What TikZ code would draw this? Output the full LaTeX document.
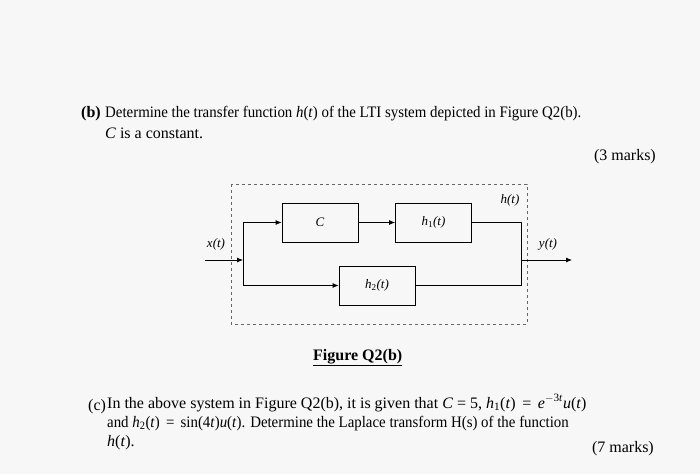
\documentclass[tikz,border=0pt]{standalone}
\usepackage{fontspec}
\setmainfont{Liberation Serif}
\usetikzlibrary{arrows.meta}
\begin{document}
\begin{tikzpicture}[x=1pt,y=-1pt,
  txt/.style={anchor=base west,inner sep=0pt,font=\fontsize{16}{18}\selectfont},
  blk/.style={draw,thick,minimum width=76pt,minimum height=39pt,inner sep=0pt,font=\fontsize{13}{15}\selectfont\itshape},
  lbl/.style={inner sep=0pt,font=\fontsize{13}{15}\selectfont\itshape},
  wire/.style={thick},
  arr/.style={thick,-{Latex[length=6pt,width=5pt]}}]
\fill[gray!6] (0,0) rectangle (700,474);
\useasboundingbox (0,0) rectangle (700,474);
\node[txt,anchor=base east] (b) at (101,117) {\textbf{(b)}};
\node[txt] (l1) at (105,117) {\scalebox{0.93}[1]{Determine the transfer function \textit{h}(\textit{t}) of the LTI system depicted in Figure Q2(b).}};
\node[txt] (l2) at (105,138) {\textit{C} is a constant.};
\node[txt,anchor=base east] (m3) at (656,160) {(3 marks)};
\draw[thick,dashed,gray!80!black] (231,184) rectangle (527,324);
\node[blk] (C) at (320,222.5) {C};
\node[blk] (h1) at (433.5,222.5) {h\textsubscript{\upshape 1}(t)};
\node[blk] (h2) at (377,285.5) {h\textsubscript{\upshape 2}(t)};
\coordinate (in) at (205,260);
\coordinate (sp) at (243,260);
\coordinate (mg) at (521,260);
\coordinate (out) at (572,260);
\draw[arr] (in) -- (sp);
\draw[arr] (sp) |- (C.west);
\draw[arr] (sp) |- (h2.west);
\draw[arr] (C.east) -- (h1.west);
\draw[wire] (h1.east) -| (mg) |- (h2.east);
\draw[arr] (mg) -- (out);
\node[lbl] (xt) at (216,244) {x(t)};
\node[lbl] (yt) at (548,244) {y(t)};
\node[lbl] (ht) at (510,200) {h(t)};
\node[txt,font=\fontsize{16}{18}\selectfont\bfseries] (fig) at (313,360) {\underline{Figure Q2(b)}};
\node[txt] (c) at (88,410) {(c)};
\node[txt] (c1) at (107,408) {In the above system in Figure Q2(b), it is given that \textit{C} = 5, \textit{h}\textsubscript{1}(\textit{t}) \,=\, \textit{e}\textsuperscript{$-$3\textit{t}}\textit{u}(\textit{t})};
\node[txt] (c2) at (107,427) {\scalebox{0.93}[1]{and \textit{h}\textsubscript{2}(\textit{t}) \,=\, sin(4\textit{t})\textit{u}(\textit{t}). Determine the Laplace transform H(s) of the function}};
\node[txt] (c3) at (107,446) {\textit{h}(\textit{t}).};
\node[txt,anchor=base east] (m7) at (654,452) {(7 marks)};
\end{tikzpicture}
\end{document}
